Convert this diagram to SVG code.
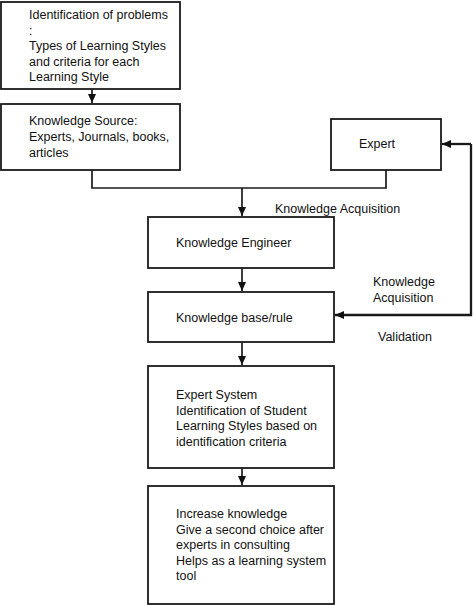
<svg xmlns="http://www.w3.org/2000/svg" width="474" height="605" viewBox="0 0 474 605">
<defs>
<marker id="ah" markerWidth="9" markerHeight="8" viewBox="0 0 9 8" refX="9" refY="4" orient="auto" markerUnits="userSpaceOnUse">
<path d="M0,0 L9,4 L0,8 Z" fill="#111"/>
</marker>
<style>
rect{fill:#fff;stroke:#1a1a1a;stroke-width:1.8}
.c{fill:none;stroke:#1a1a1a;stroke-width:1.7}
.fb{stroke-width:2.3}
text{font-family:"Liberation Sans",Arial,sans-serif;font-size:12.5px;fill:#111}
</style>
</defs>
<rect x="0" y="0" width="474" height="605" style="stroke:none"/>
<g id="connectors">
<path class="c" d="M92,89 V103" marker-end="url(#ah)"/>
<path class="c" d="M92,170 V188 H386 V170"/>
<path class="c" d="M242,188 V216" marker-end="url(#ah)"/>
<path class="c" d="M242,268 V291" marker-end="url(#ah)"/>
<path class="c" d="M242,342 V365" marker-end="url(#ah)"/>
<path class="c" d="M242,468 V485" marker-end="url(#ah)"/>
<path class="c fb" d="M471,144 V315 H335" marker-end="url(#ah)"/>
<path class="c fb" d="M471,144 H442" marker-end="url(#ah)"/>
</g>
<g id="n-problems">
<rect x="1" y="2" width="179" height="87"/>
<text x="29" y="19">Identification of problems</text>
<text x="29" y="34.5">:</text>
<text x="29" y="50">Types of Learning Styles</text>
<text x="29" y="65.5">and criteria for each</text>
<text x="29" y="81">Learning Style</text>
</g>
<g id="n-source">
<rect x="1" y="104" width="179" height="66"/>
<text x="29" y="125">Knowledge Source:</text>
<text x="29" y="141">Experts, Journals, books,</text>
<text x="29" y="157">articles</text>
</g>
<g id="n-expert">
<rect x="331" y="119" width="110" height="51"/>
<text x="377" y="148" text-anchor="middle">Expert</text>
</g>
<g id="n-engineer">
<rect x="148" y="217" width="186" height="51"/>
<text x="176" y="247">Knowledge Engineer</text>
</g>
<g id="n-kb">
<rect x="148" y="292" width="186" height="50"/>
<text x="176" y="322">Knowledge base/rule</text>
</g>
<g id="n-es">
<rect x="148" y="366" width="186" height="102"/>
<text x="176" y="399">Expert System</text>
<text x="176" y="414.5">Identification of Student</text>
<text x="176" y="430">Learning Styles based on</text>
<text x="176" y="445.5">identification criteria</text>
</g>
<g id="n-result">
<rect x="148" y="486" width="186" height="118"/>
<text x="176" y="518">Increase knowledge</text>
<text x="176" y="534">Give a second choice after</text>
<text x="176" y="549">experts in consulting</text>
<text x="176" y="565">Helps as a learning system</text>
<text x="176" y="580">tool</text>
</g>
<g id="labels">
<text x="275" y="213">Knowledge Acquisition</text>
<text x="373" y="286">Knowledge</text>
<text x="373" y="302">Acquisition</text>
<text x="378" y="341">Validation</text>
</g>
</svg>
